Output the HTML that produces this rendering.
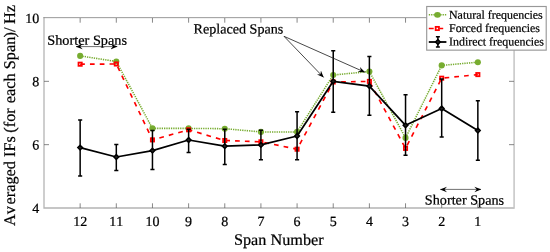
<!DOCTYPE html>
<html><head><meta charset="utf-8"><title>Averaged IFs per span</title>
<style>
html,body{margin:0;padding:0;background:#fff;}
svg{display:block;}
text{font-family:"Liberation Serif",serif;fill:#000;font-kerning:none;stroke:#000;stroke-width:0.22px;}
</style></head><body>
<svg width="550" height="252" viewBox="0 0 550 252">
<rect x="0" y="0" width="550" height="252" fill="#ffffff"/>

<path d="M44.0 17.35V208.0H514.1" stroke="#b4b4b4" stroke-width="1.3" fill="none" stroke-linejoin="miter"/>
<line x1="514.1" y1="208.65" x2="514.1" y2="17.6" stroke="#c4c4c4" stroke-width="1.5"/>
<line x1="43.35" y1="17.65" x2="514.8" y2="17.65" stroke="#868686" stroke-width="0.85"/>
<g stroke="#606060" stroke-width="0.75" fill="none">
<line x1="80.15" y1="208.0" x2="80.15" y2="203.3"/>
<line x1="80.15" y1="18.0" x2="80.15" y2="22.7"/>
<line x1="116.31" y1="208.0" x2="116.31" y2="203.3"/>
<line x1="116.31" y1="18.0" x2="116.31" y2="22.7"/>
<line x1="152.46" y1="208.0" x2="152.46" y2="203.3"/>
<line x1="152.46" y1="18.0" x2="152.46" y2="22.7"/>
<line x1="188.62" y1="208.0" x2="188.62" y2="203.3"/>
<line x1="188.62" y1="18.0" x2="188.62" y2="22.7"/>
<line x1="224.77" y1="208.0" x2="224.77" y2="203.3"/>
<line x1="224.77" y1="18.0" x2="224.77" y2="22.7"/>
<line x1="260.92" y1="208.0" x2="260.92" y2="203.3"/>
<line x1="260.92" y1="18.0" x2="260.92" y2="22.7"/>
<line x1="297.08" y1="208.0" x2="297.08" y2="203.3"/>
<line x1="297.08" y1="18.0" x2="297.08" y2="22.7"/>
<line x1="333.23" y1="208.0" x2="333.23" y2="203.3"/>
<line x1="333.23" y1="18.0" x2="333.23" y2="22.7"/>
<line x1="369.38" y1="208.0" x2="369.38" y2="203.3"/>
<line x1="369.38" y1="18.0" x2="369.38" y2="22.7"/>
<line x1="405.54" y1="208.0" x2="405.54" y2="203.3"/>
<line x1="405.54" y1="18.0" x2="405.54" y2="22.7"/>
<line x1="441.69" y1="208.0" x2="441.69" y2="203.3"/>
<line x1="441.69" y1="18.0" x2="441.69" y2="22.7"/>
<line x1="477.85" y1="208.0" x2="477.85" y2="203.3"/>
<line x1="477.85" y1="18.0" x2="477.85" y2="22.7"/>
<line x1="44.0" y1="144.67" x2="49.0" y2="144.67"/>
<line x1="514.0" y1="144.67" x2="509.0" y2="144.67"/>
<line x1="44.0" y1="81.33" x2="49.0" y2="81.33"/>
<line x1="514.0" y1="81.33" x2="509.0" y2="81.33"/>
</g>
<g font-size="14">
<text x="80.15" y="226.00" text-anchor="middle" transform="rotate(0.03 80.15 226.00)">12</text>
<text x="116.31" y="226.00" text-anchor="middle" transform="rotate(0.03 116.31 226.00)">11</text>
<text x="152.46" y="226.00" text-anchor="middle" transform="rotate(0.03 152.46 226.00)">10</text>
<text x="188.62" y="226.00" text-anchor="middle" transform="rotate(0.03 188.62 226.00)">9</text>
<text x="224.77" y="226.00" text-anchor="middle" transform="rotate(0.03 224.77 226.00)">8</text>
<text x="260.92" y="226.00" text-anchor="middle" transform="rotate(0.03 260.92 226.00)">7</text>
<text x="297.08" y="226.00" text-anchor="middle" transform="rotate(0.03 297.08 226.00)">6</text>
<text x="333.23" y="226.00" text-anchor="middle" transform="rotate(0.03 333.23 226.00)">5</text>
<text x="369.38" y="226.00" text-anchor="middle" transform="rotate(0.03 369.38 226.00)">4</text>
<text x="405.54" y="226.00" text-anchor="middle" transform="rotate(0.03 405.54 226.00)">3</text>
<text x="441.69" y="226.00" text-anchor="middle" transform="rotate(0.03 441.69 226.00)">2</text>
<text x="477.85" y="226.00" text-anchor="middle" transform="rotate(0.03 477.85 226.00)">1</text>
<text x="39.30" y="212.90" text-anchor="end" transform="rotate(0.03 39.30 212.90)">4</text>
<text x="39.30" y="149.57" text-anchor="end" transform="rotate(0.03 39.30 149.57)">6</text>
<text x="39.30" y="86.23" text-anchor="end" transform="rotate(0.03 39.30 86.23)">8</text>
<text x="39.30" y="22.90" text-anchor="end" transform="rotate(0.03 39.30 22.90)">10</text>
</g>
<text x="278.80" y="244.90" font-size="16" text-anchor="middle" textLength="89.6" lengthAdjust="spacingAndGlyphs" transform="rotate(0.03 278.80 244.90)">Span Number</text>
<text transform="translate(15.0,225.9) rotate(-89.97)" font-size="16.3">Av<tspan dx="1.5">eraged IFs </tspan><tspan dx="-0.5">(for</tspan><tspan dx="1.0"> each Span</tspan><tspan dx="-0.9">)</tspan><tspan dx="0.2">/</tspan><tspan dx="-0.6"> Hz</tspan></text>
<polyline points="80.15,55.90 116.31,61.50 152.46,128.40 188.62,128.40 224.77,128.70 260.92,131.90 297.08,131.90 333.23,75.00 369.38,71.50 405.54,137.90 441.69,65.40 477.85,62.20" fill="none" stroke="#77ac30" stroke-width="1.55" stroke-dasharray="1.3 1.0"/>
<circle cx="80.15" cy="55.90" r="3.05" fill="#77ac30"/>
<circle cx="116.31" cy="61.50" r="3.05" fill="#77ac30"/>
<circle cx="152.46" cy="128.40" r="3.05" fill="#77ac30"/>
<circle cx="188.62" cy="128.40" r="3.05" fill="#77ac30"/>
<circle cx="224.77" cy="128.70" r="3.05" fill="#77ac30"/>
<circle cx="260.92" cy="131.90" r="3.05" fill="#77ac30"/>
<circle cx="297.08" cy="131.90" r="3.05" fill="#77ac30"/>
<circle cx="333.23" cy="75.00" r="3.05" fill="#77ac30"/>
<circle cx="369.38" cy="71.50" r="3.05" fill="#77ac30"/>
<circle cx="405.54" cy="137.90" r="3.05" fill="#77ac30"/>
<circle cx="441.69" cy="65.40" r="3.05" fill="#77ac30"/>
<circle cx="477.85" cy="62.20" r="3.05" fill="#77ac30"/>
<polyline points="80.15,64.20 116.31,64.00 152.46,139.90 188.62,129.80 224.77,140.50 260.92,141.80 297.08,149.20 333.23,82.00 369.38,81.40 405.54,148.40 441.69,78.20 477.85,74.60" fill="none" stroke="#ff0000" stroke-width="1.65" stroke-dasharray="4.7 5.1"/>
<rect x="78.50" y="62.55" width="3.3" height="3.3" fill="none" stroke="#ff0000" stroke-width="1.75"/>
<rect x="114.66" y="62.35" width="3.3" height="3.3" fill="none" stroke="#ff0000" stroke-width="1.75"/>
<rect x="150.81" y="138.25" width="3.3" height="3.3" fill="none" stroke="#ff0000" stroke-width="1.75"/>
<rect x="186.97" y="128.15" width="3.3" height="3.3" fill="none" stroke="#ff0000" stroke-width="1.75"/>
<rect x="223.12" y="138.85" width="3.3" height="3.3" fill="none" stroke="#ff0000" stroke-width="1.75"/>
<rect x="259.27" y="140.15" width="3.3" height="3.3" fill="none" stroke="#ff0000" stroke-width="1.75"/>
<rect x="295.43" y="147.55" width="3.3" height="3.3" fill="none" stroke="#ff0000" stroke-width="1.75"/>
<rect x="331.58" y="80.35" width="3.3" height="3.3" fill="none" stroke="#ff0000" stroke-width="1.75"/>
<rect x="367.73" y="79.75" width="3.3" height="3.3" fill="none" stroke="#ff0000" stroke-width="1.75"/>
<rect x="403.89" y="146.75" width="3.3" height="3.3" fill="none" stroke="#ff0000" stroke-width="1.75"/>
<rect x="440.04" y="76.55" width="3.3" height="3.3" fill="none" stroke="#ff0000" stroke-width="1.75"/>
<rect x="476.20" y="72.95" width="3.3" height="3.3" fill="none" stroke="#ff0000" stroke-width="1.75"/>
<polyline points="80.15,147.60 116.31,157.00 152.46,150.60 188.62,140.00 224.77,146.20 260.92,144.90 297.08,136.00 333.23,81.30 369.38,86.10 405.54,125.30 441.69,108.50 477.85,130.50" fill="none" stroke="#000" stroke-width="1.75" stroke-linejoin="round"/>
<g stroke="#000" stroke-width="1.5" fill="none">
<path d="M80.15 119.90V175.90M78.10 119.90h4.1M78.10 175.90h4.1"/>
<path d="M116.31 144.40V170.60M114.26 144.40h4.1M114.26 170.60h4.1"/>
<path d="M152.46 130.50V169.50M150.41 130.50h4.1M150.41 169.50h4.1"/>
<path d="M188.62 129.30V152.40M186.57 129.30h4.1M186.57 152.40h4.1"/>
<path d="M224.77 129.30V164.50M222.72 129.30h4.1M222.72 164.50h4.1"/>
<path d="M260.92 130.20V159.70M258.87 130.20h4.1M258.87 159.70h4.1"/>
<path d="M297.08 111.70V159.70M295.03 111.70h4.1M295.03 159.70h4.1"/>
<path d="M333.23 50.70V112.30M331.18 50.70h4.1M331.18 112.30h4.1"/>
<path d="M369.38 56.60V115.30M367.33 56.60h4.1M367.33 115.30h4.1"/>
<path d="M405.54 94.70V155.30M403.49 94.70h4.1M403.49 155.30h4.1"/>
<path d="M441.69 78.90V137.00M439.64 78.90h4.1M439.64 137.00h4.1"/>
<path d="M477.85 100.80V160.20M475.80 100.80h4.1M475.80 160.20h4.1"/>
</g>
<path d="M80.15 145.20L82.55 147.60L80.15 150.00L77.75 147.60Z" fill="#222" stroke="#000" stroke-width="1.4" stroke-linejoin="miter"/>
<path d="M116.31 154.60L118.71 157.00L116.31 159.40L113.91 157.00Z" fill="#222" stroke="#000" stroke-width="1.4" stroke-linejoin="miter"/>
<path d="M152.46 148.20L154.86 150.60L152.46 153.00L150.06 150.60Z" fill="#222" stroke="#000" stroke-width="1.4" stroke-linejoin="miter"/>
<path d="M188.62 137.60L191.02 140.00L188.62 142.40L186.22 140.00Z" fill="#222" stroke="#000" stroke-width="1.4" stroke-linejoin="miter"/>
<path d="M224.77 143.80L227.17 146.20L224.77 148.60L222.37 146.20Z" fill="#222" stroke="#000" stroke-width="1.4" stroke-linejoin="miter"/>
<path d="M260.92 142.50L263.32 144.90L260.92 147.30L258.52 144.90Z" fill="#222" stroke="#000" stroke-width="1.4" stroke-linejoin="miter"/>
<path d="M297.08 133.60L299.48 136.00L297.08 138.40L294.68 136.00Z" fill="#222" stroke="#000" stroke-width="1.4" stroke-linejoin="miter"/>
<path d="M333.23 78.90L335.63 81.30L333.23 83.70L330.83 81.30Z" fill="#222" stroke="#000" stroke-width="1.4" stroke-linejoin="miter"/>
<path d="M369.38 83.70L371.78 86.10L369.38 88.50L366.98 86.10Z" fill="#222" stroke="#000" stroke-width="1.4" stroke-linejoin="miter"/>
<path d="M405.54 122.90L407.94 125.30L405.54 127.70L403.14 125.30Z" fill="#222" stroke="#000" stroke-width="1.4" stroke-linejoin="miter"/>
<path d="M441.69 106.10L444.09 108.50L441.69 110.90L439.29 108.50Z" fill="#222" stroke="#000" stroke-width="1.4" stroke-linejoin="miter"/>
<path d="M477.85 128.10L480.25 130.50L477.85 132.90L475.45 130.50Z" fill="#222" stroke="#000" stroke-width="1.4" stroke-linejoin="miter"/>
<defs><marker id="ah" viewBox="0 0 10 10" preserveAspectRatio="none" refX="9.5" refY="5" markerWidth="7" markerHeight="6.6" markerUnits="userSpaceOnUse" orient="auto-start-reverse"><path d="M0 0.8L10 5L0 9.2L3.5 5Z" fill="#000"/></marker></defs>
<g stroke="#1a1a1a" stroke-width="0.8" fill="none">
<line x1="76" y1="46.6" x2="117.2" y2="46.6" stroke="#333" stroke-width="0.7" marker-start="url(#ah)" marker-end="url(#ah)"/>
<line x1="440.3" y1="189.4" x2="481" y2="189.4" stroke="#333" stroke-width="0.7" marker-start="url(#ah)" marker-end="url(#ah)"/>
<line x1="284" y1="36.3" x2="323.5" y2="77.3" marker-end="url(#ah)"/>
<line x1="284" y1="36.3" x2="364.8" y2="72.2" marker-end="url(#ah)"/>
</g>
<g font-size="14" fill="#000">
<text x="47.30" y="44.80" textLength="79.7" lengthAdjust="spacingAndGlyphs" transform="rotate(0.03 47.30 44.80)">Shorter Spans</text>
<text x="424.80" y="204.60" textLength="79.3" lengthAdjust="spacingAndGlyphs" transform="rotate(0.03 424.80 204.60)">Shorter Spans</text>
<text x="193.50" y="33.40" textLength="89.8" lengthAdjust="spacingAndGlyphs" transform="rotate(0.03 193.50 33.40)">Replaced Spans</text>
</g>
<rect x="426.7" y="6.5" width="119.5" height="43.65" fill="#fff" stroke="#989898" stroke-width="1.15"/>
<line x1="428.8" y1="14.8" x2="446.4" y2="14.8" stroke="#77ac30" stroke-width="1.55" stroke-dasharray="1.3 1.0"/>
<ellipse cx="437.5" cy="14.8" rx="3.4" ry="2.9" fill="#77ac30"/>
<path d="M428.8 28.5H433.7M439.4 28.5H443.2" stroke="#ff0000" stroke-width="1.5" fill="none"/>
<rect x="435.65000000000003" y="26.85" width="3.3" height="3.3" fill="#fff" stroke="#ff0000" stroke-width="1.75"/>
<line x1="428.8" y1="42.0" x2="446.4" y2="42.0" stroke="#000" stroke-width="1.8"/>
<path d="M437.9 36.8V47.1M435.9 36.8h4.0M435.9 47.1h4.0" stroke="#000" stroke-width="1.5" fill="none"/>
<path d="M437.90 39.60L440.30 42.00L437.90 44.40L435.50 42.00Z" fill="#222" stroke="#000" stroke-width="1.4" stroke-linejoin="miter"/>
<g font-size="12" fill="#000">
<text x="449.00" y="18.70" textLength="93.7" lengthAdjust="spacingAndGlyphs" transform="rotate(0.03 449.00 18.70)">Natural frequencies</text>
<text x="449.00" y="32.00" textLength="91.0" lengthAdjust="spacingAndGlyphs" transform="rotate(0.03 449.00 32.00)">Forced frequencies</text>
<text x="449.00" y="45.50" textLength="95.0" lengthAdjust="spacingAndGlyphs" transform="rotate(0.03 449.00 45.50)">Indirect frequencies</text>
</g>
</svg></body></html>
